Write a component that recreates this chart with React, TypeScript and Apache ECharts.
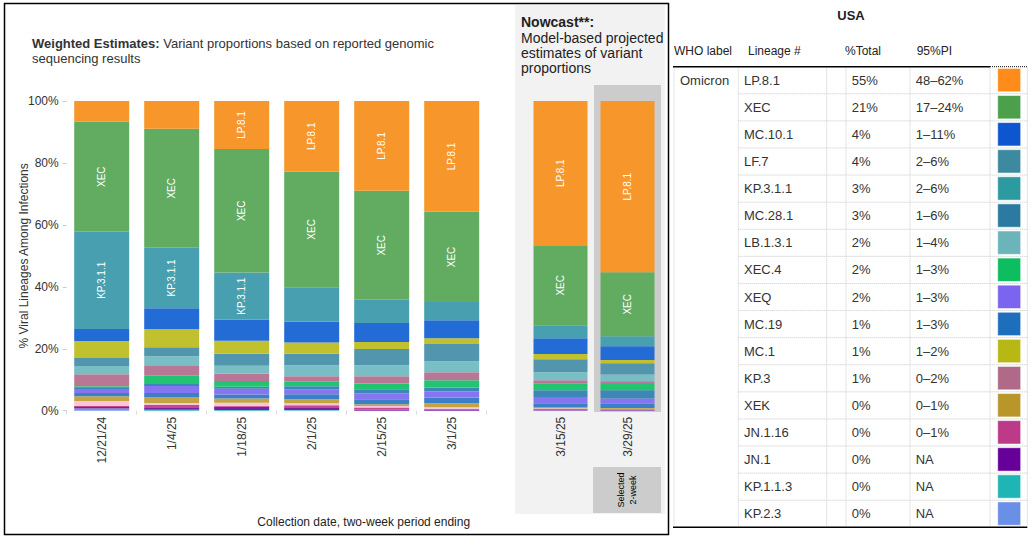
import React, { useEffect, useRef } from "react";
import * as echarts from "echarts";

const FONT = "'Liberation Sans', Arial, Helvetica, sans-serif";

// ---------- Bar chart data ----------
const weightedDates = ["12/21/24", "1/4/25", "1/18/25", "2/1/25", "2/15/25", "3/1/25"];
const nowcastDates = ["3/15/25", "3/29/25"];

// stacking order, top of bar -> bottom of bar
const stackLineages = [
  "LP.8.1", "XEC", "KP.3.1.1", "MC.10.1", "MC.1", "LF.7", "LB.1.3.1", "KP.3", "XEC.4",
  "MC.28.1", "XEQ", "MC.19", "XEK", "Other", "JN.1.16", "JN.1", "KP.1.1.3", "KP.2.3",
];
const barColors = [
  "#F7962B", "#62AC62", "#479FAF", "#236BD5", "#C1C12F", "#5296AE", "#79BEC4", "#B87895", "#22C472",
  "#3D86B8", "#8575F0", "#3B80C6", "#C2A444", "#F9C6D7", "#C4478F", "#7A1FA8", "#2BB8B8", "#6B9BE8",
];
const labelledLineages = ["LP.8.1", "XEC", "KP.3.1.1"];

// shares (%) per two-week period, in stackLineages order
const period_12_21_24 = [6.7, 35.5, 31.4, 3.9, 5.5, 2.6, 2.6, 3.9, 0.6, 0.3, 1.3, 1.0, 1.6, 1.6, 0.3, 0.5, 0.0, 0.7];
const period_1_4_25 = [9.0, 38.4, 19.5, 6.8, 5.8, 2.9, 3.2, 3.1, 2.7, 0.6, 2.3, 1.3, 1.9, 0.6, 1.0, 0.6, 0.3, 0.0];
const period_1_18_25 = [15.5, 39.9, 15.2, 6.8, 4.2, 3.9, 2.6, 2.3, 1.9, 0.6, 1.9, 1.3, 1.3, 1.0, 0.3, 1.1, 0.2, 0.0];
const period_2_1_25 = [22.8, 37.3, 11.1, 6.8, 3.6, 3.7, 3.6, 1.6, 1.6, 1.0, 1.6, 1.6, 1.3, 0.6, 0.9, 0.7, 0.1, 0.1];
const period_2_15_25 = [29.0, 35.2, 7.5, 6.1, 2.3, 5.2, 3.6, 2.3, 1.9, 1.3, 1.9, 1.6, 0.6, 0.5, 0.6, 0.4, 0.0, 0.0];
const period_3_1_25 = [35.8, 29.1, 5.9, 5.8, 1.9, 5.5, 3.6, 2.6, 2.3, 1.3, 1.9, 1.9, 1.3, 0.5, 0.3, 0.3, 0.0, 0.0];
const nowcast_3_15_25 = [46.6, 25.8, 4.2, 5.1, 1.7, 4.2, 2.6, 0.9, 2.3, 2.2, 2.0, 1.2, 0.4, 0.2, 0.2, 0.3, 0.05, 0.05];
const nowcast_3_29_25 = [55.3, 20.7, 3.2, 4.4, 1.1, 3.6, 2.2, 0.9, 2.0, 2.7, 1.6, 1.4, 0.3, 0.1, 0.2, 0.2, 0.05, 0.05];

const weightedPeriods = [period_12_21_24, period_1_4_25, period_1_18_25, period_2_1_25, period_2_15_25, period_3_1_25];
const nowcastPeriods = [nowcast_3_15_25, nowcast_3_29_25];

// ---------- Table data ----------
const tableRegion = "USA";
const tableHeaders = ["WHO label", "Lineage #", "%Total", "95%PI"];
const whoLabel = "Omicron";
const tableLineages = [
  "LP.8.1", "XEC", "MC.10.1", "LF.7", "KP.3.1.1", "MC.28.1", "LB.1.3.1", "XEC.4", "XEQ",
  "MC.19", "MC.1", "KP.3", "XEK", "JN.1.16", "JN.1", "KP.1.1.3", "KP.2.3",
];
const tableTotals = ["55%", "21%", "4%", "4%", "3%", "3%", "2%", "2%", "2%", "1%", "1%", "1%", "0%", "0%", "0%", "0%", "0%"];
const tablePI = [
  "48–62%", "17–24%", "1–11%", "2–6%", "2–6%", "1–6%", "1–4%", "1–3%", "1–3%",
  "1–3%", "1–2%", "0–2%", "0–1%", "0–1%", "NA", "NA", "NA",
];
const tableSwatches = [
  "#FF8C1A", "#4CA04C", "#0E55D0", "#3D8AA0", "#2D9AA0", "#2B7BA0", "#6AB4BA", "#0DBE60", "#7B64F0",
  "#1E6EBE", "#B8B814", "#B06A88", "#B8962A", "#BC3A88", "#660099", "#20B5B5", "#6A8FE6",
];

function buildOption() {
  const series: any[] = [];
  for (let k = stackLineages.length - 1; k >= 0; k--) {
    const name = stackLineages[k];
    const labelled = labelledLineages.includes(name);
    const label = labelled
      ? {
          show: true,
          position: "inside",
          rotate: 90,
          color: "#fff",
          fontSize: 10,
          fontFamily: FONT,
          formatter: (p: any) => (p.value >= 12 ? name : ""),
        }
      : { show: false };
    series.push({
      type: "bar",
      name,
      xAxisIndex: 0,
      yAxisIndex: 0,
      stack: "weighted",
      barWidth: 55,
      data: weightedPeriods.map((p) => p[k]),
      itemStyle: { color: barColors[k] },
      label,
      silent: true,
    });
    series.push({
      type: "bar",
      name,
      xAxisIndex: 1,
      yAxisIndex: 1,
      stack: "nowcast",
      barWidth: 54,
      data: nowcastPeriods.map((p) => p[k]),
      itemStyle: { color: barColors[k] },
      label,
      silent: true,
    });
  }

  // table rows through a custom series on a category axis
  series.push({
    type: "custom",
    xAxisIndex: 2,
    yAxisIndex: 2,
    silent: true,
    z: 10,
    data: tableLineages.map((_, i) => [0, i]),
    renderItem: (params: any, api: any) => {
      const i = params.dataIndex;
      const pt = api.coord([0, i]);
      const rowH = api.size([0, 1])[1];
      const cs = params.coordSys;
      const x0 = cs.x;
      const cy = pt[1];
      const top = cy - rowH / 2;
      const bottom = cy + rowH / 2;
      const txt = (x: number, s: string) => ({
        type: "text",
        x,
        y: cy,
        style: {
          text: s,
          fill: "#333",
          font: `13px ${FONT}`,
          textAlign: "left",
          textVerticalAlign: "middle",
          align: "left",
          verticalAlign: "middle",
        },
      });
      const children: any[] = [
        txt(x0 + 71, tableLineages[i]),
        txt(x0 + 178.7, tableTotals[i]),
        txt(x0 + 242.7, tablePI[i]),
        {
          type: "rect",
          shape: { x: x0 + 324.7, y: top + 1.7, width: 23, height: rowH - 3.7 },
          style: { fill: tableSwatches[i], stroke: "rgba(255,255,255,0.55)", lineWidth: 1 },
        },
      ];
      if (i < tableLineages.length - 1) {
        children.push({
          type: "line",
          shape: { x1: x0 + 65.3, y1: bottom, x2: x0 + cs.width, y2: bottom },
          style: { stroke: "#c8c8c8", lineWidth: 1, lineDash: [1, 1] },
        });
      }
      return { type: "group", children };
    },
  });

  const tTop = 66.7;
  const tBottom = 527.3;
  const vLines = [674, 738.3, 826.7, 846, 910, 990, 1027.3];
  const headerX = [674, 748, 845, 916.7];

  const graphic: any[] = [
    { type: "rect", z: 0, shape: { x: 515, y: 5, width: 150, height: 509 }, style: { fill: "#f2f2f2" } },
    { type: "rect", z: 0, shape: { x: 594, y: 85, width: 67, height: 327 }, style: { fill: "#cccccc" } },
    { type: "rect", z: 0, shape: { x: 593, y: 467, width: 68, height: 46 }, style: { fill: "#cccccc" } },
    {
      type: "text",
      z: 10,
      x: 627,
      y: 490,
      rotation: Math.PI / 2,
      style: {
        text: "Selected\n2-week",
        font: `9px ${FONT}`,
        fill: "#000",
        lineHeight: 12,
        textAlign: "center",
        textVerticalAlign: "middle",
        align: "center",
        verticalAlign: "middle",
      },
    },
    {
      type: "rect",
      z: 20,
      shape: { x: 4.5, y: 3.5, width: 664, height: 531 },
      style: { fill: "none", stroke: "#000", lineWidth: 1.5 },
    },
    {
      type: "text",
      z: 10,
      x: 32,
      y: 36,
      style: {
        text: "{b|Weighted Estimates:} Variant proportions based on reported genomic\nsequencing results",
        font: `13px ${FONT}`,
        fill: "#333",
        lineHeight: 15,
        textVerticalAlign: "top",
        verticalAlign: "top",
        rich: {
          b: { fontWeight: "bold", fontSize: 13, fontFamily: FONT, fill: "#333", lineHeight: 15 },
        },
      },
    },
    {
      type: "text",
      z: 10,
      x: 521,
      y: 22,
      style: {
        text: "Nowcast**:",
        font: `bold 14px ${FONT}`,
        fill: "#222",
        textVerticalAlign: "middle",
        verticalAlign: "middle",
      },
    },
    {
      type: "text",
      z: 10,
      x: 521,
      y: 30,
      style: {
        text: "Model-based projected\nestimates of variant\nproportions",
        font: `14px ${FONT}`,
        fill: "#222",
        lineHeight: 15,
        textVerticalAlign: "top",
        verticalAlign: "top",
      },
    },
    {
      type: "text",
      z: 10,
      x: 257.3,
      y: 521.7,
      style: {
        text: "Collection date, two-week period ending",
        font: `12px ${FONT}`,
        fill: "#222",
        textVerticalAlign: "middle",
        verticalAlign: "middle",
      },
    },
    // table title and header
    {
      type: "text",
      z: 10,
      x: 851,
      y: 15,
      style: {
        text: tableRegion,
        font: `bold 13px ${FONT}`,
        fill: "#222",
        textAlign: "center",
        textVerticalAlign: "middle",
        align: "center",
        verticalAlign: "middle",
      },
    },
    ...tableHeaders.map((h, i) => ({
      type: "text",
      z: 10,
      x: headerX[i],
      y: 50.7,
      style: {
        text: h,
        font: `12px ${FONT}`,
        fill: "#222",
        textVerticalAlign: "middle",
        verticalAlign: "middle",
      },
    })),
    ...vLines.map((x) => ({
      type: "line",
      z: 5,
      shape: { x1: x, y1: tTop + 1, x2: x, y2: tBottom - 1 },
      style: { stroke: "#c8c8c8", lineWidth: 1, lineDash: [1, 1] },
    })),
    {
      type: "line",
      z: 10,
      shape: { x1: 673, y1: tTop, x2: 990, y2: tTop },
      style: { stroke: "#000", lineWidth: 1.5 },
    },
    {
      type: "line",
      z: 10,
      shape: { x1: 990, y1: tTop, x2: 1027.3, y2: tTop },
      style: { stroke: "#000", lineWidth: 1, lineDash: [1, 1] },
    },
    {
      type: "line",
      z: 10,
      shape: { x1: 673, y1: tBottom, x2: 1027.3, y2: tBottom },
      style: { stroke: "#000", lineWidth: 1.5 },
    },
    {
      type: "text",
      z: 10,
      x: 680,
      y: 80.3,
      style: {
        text: whoLabel,
        font: `13px ${FONT}`,
        fill: "#333",
        textVerticalAlign: "middle",
        verticalAlign: "middle",
      },
    },
  ];

  const catLabel = {
    rotate: 90,
    fontSize: 12,
    color: "#333",
    fontFamily: FONT,
    margin: 6,
    interval: 0,
  };

  return {
    animation: false,
    backgroundColor: "#ffffff",
    textStyle: { fontFamily: FONT },
    grid: [
      { left: 66.7, top: 101, width: 420, height: 309.7 },
      { left: 527, top: 101, width: 134, height: 309.7 },
      { left: 673, top: tTop, width: 354.3, height: tBottom - tTop },
    ],
    xAxis: [
      {
        type: "category",
        gridIndex: 0,
        data: weightedDates,
        axisLine: { show: false },
        axisTick: { show: true, length: 4, lineStyle: { color: "#dddddd" } },
        axisLabel: catLabel,
      },
      {
        type: "category",
        gridIndex: 1,
        data: nowcastDates,
        axisLine: { show: false },
        axisTick: { show: false },
        axisLabel: catLabel,
      },
      { type: "value", gridIndex: 2, min: 0, max: 1, show: false },
    ],
    yAxis: [
      {
        type: "value",
        gridIndex: 0,
        min: 0,
        max: 100,
        interval: 20,
        axisLine: { show: false },
        axisTick: { show: true, length: 4, lineStyle: { color: "#cccccc" } },
        splitLine: { show: false },
        axisLabel: { formatter: "{value}%", fontSize: 12, color: "#333", fontFamily: FONT, margin: 8 },
        name: "% Viral Lineages Among Infections",
        nameLocation: "middle",
        nameGap: 37,
        nameMoveOverlap: false,
        nameTextStyle: { fontSize: 12, color: "#333", fontFamily: FONT },
      },
      { type: "value", gridIndex: 1, min: 0, max: 100, show: false },
      { type: "category", gridIndex: 2, data: tableLineages, inverse: true, show: false },
    ],
    graphic,
    series,
  };
}

export default function App() {
  const ref = useRef<HTMLDivElement>(null);
  useEffect(() => {
    const chart = echarts.init(ref.current!, null, { renderer: "svg" });
    chart.setOption(buildOption() as any);
    return () => chart.dispose();
  }, []);
  return (
    <div
      ref={ref}
      style={{ position: "absolute", left: 0, top: 0, width: 1035, height: 540, background: "#fff" }}
    />
  );
}
